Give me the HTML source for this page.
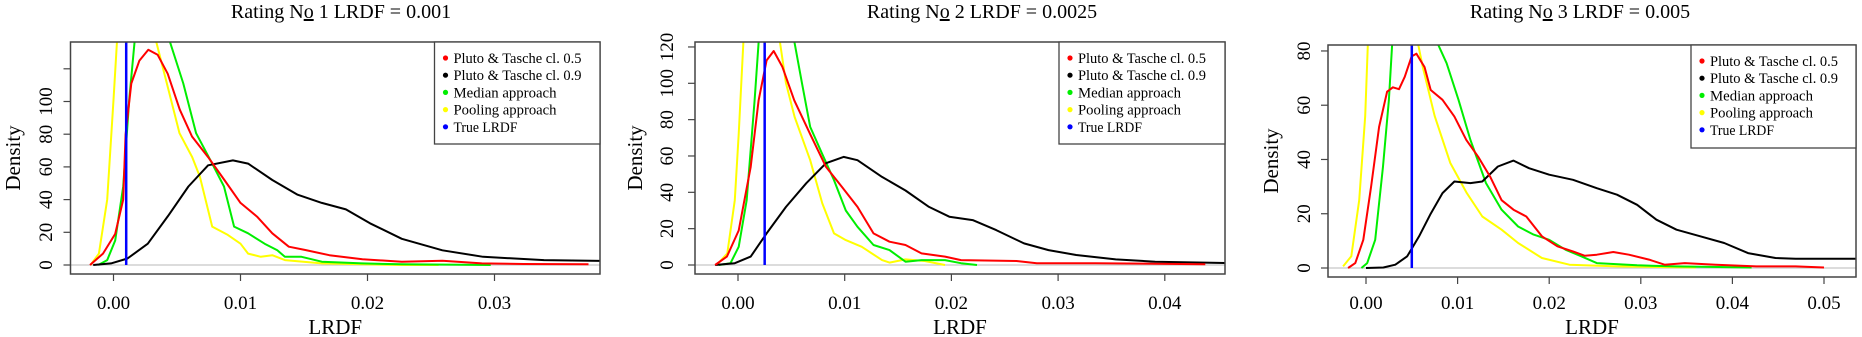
<!DOCTYPE html>
<html><head><meta charset="utf-8"><style>
html,body{margin:0;padding:0;background:#fff;}
svg{display:block;font-family:"Liberation Serif",serif;}
</style></head><body>
<svg id="s" width="1862" height="337" xmlns="http://www.w3.org/2000/svg"></svg>
<script>
const S=document.getElementById('s');
let out='';
const panels=[
 {title:['1','0.001'],tc:341,bx:[70.5,600],by:[42,274],x0:113.5,xs:12.7,y0:265,ys:1.635,ymax:136,
  yt:[0,20,40,60,80,100,120],ylab:[0,20,40,60,80,100],xt:[0,10,20,30],ytx:52,dx:14,true:1,leg:[434.5,600,42,144],
  red:[[-1.85,0],[-0.83,7],[0.13,19],[0.76,40],[0.95,80],[1.4,111],[2.04,125],[2.74,131.6],[3.47,128.6],[4.27,117],[5.22,95],[6.18,78.6],[7.45,66],[8.73,52],[10,38],[11.3,29.6],[12.5,19.4],[13.8,11.2],[15.1,9.2],[17,6],[19.6,3.5],[22.7,2],[25.9,2.6],[29,1],[32.3,0.6],[37.4,0.4]],
  black:[[-1.6,0],[-0.2,1],[1.1,4],[2.7,13],[4.3,30],[5.9,48],[7.45,61],[9.4,64],[10.6,62],[12.5,52],[14.5,43],[16.4,38],[18.3,34],[20.2,25.5],[22.7,16],[25.9,9],[29.1,5],[33.9,3],[39.5,2.4]],
  green:[[-1.2,0],[-0.5,3],[0.13,15],[0.76,48],[1.24,101],[1.7,140],[4.3,140],[5.5,111],[6.5,80.6],[7.77,62],[8.7,48],[9.5,23.5],[10.6,19.4],[11.9,13],[12.9,9],[13.5,5],[14.8,5],[16.4,2],[19.6,1],[22.7,0.4],[29.7,0]],
  yellow:[[-1.8,0],[-1.15,7],[-0.5,40],[0,101],[0.3,140],[3.25,140],[4.27,109],[5.2,80.6],[6.2,66],[6.8,54],[7.77,23.5],[9,18.4],[10,13],[10.6,7],[11.6,5],[12.5,6],[13.5,3],[16.4,1],[22.7,0],[25.6,0]]},
 {title:['2','0.0025'],tc:982,bx:[695,1225],by:[42,274],x0:738,xs:10.67,y0:265,ys:1.817,ymax:122,
  yt:[0,20,40,60,80,100,120],ylab:[0,20,40,60,80,100,120],xt:[0,10,20,30,40],ytx:673,dx:636,true:2.5,leg:[1059,1225,42,144],
  red:[[-2.15,0],[-1.04,4.6],[0.07,19],[1.19,54],[1.93,90.6],[2.68,112.6],[3.35,117.8],[4.16,109],[5.28,90.6],[6.77,72],[8.25,54],[9.74,43],[11.2,32],[12.7,17.4],[14.2,12.8],[15.7,11],[17.2,6.4],[19.4,4.6],[20.9,2.7],[26.1,2.2],[28,1],[33.5,1],[43.8,0.4]],
  black:[[-2.15,0],[-0.3,1],[1.19,4.6],[2.68,17.4],[4.5,32],[6.4,45],[8.25,56],[9.9,59.5],[11.2,57.7],[13.5,48.5],[15.7,41],[17.9,32],[19.8,26.6],[22,24.7],[24.2,19.2],[26.8,11.9],[29.1,8.2],[31.7,5.5],[35.4,3.1],[39.1,1.8],[45.8,1.1]],
  green:[[-1.8,0],[-0.7,1],[0.07,10],[0.82,35.7],[1.56,90.6],[1.95,124],[5.25,124],[6,100],[6.77,76],[7.9,61],[9,46.7],[10.1,30],[11.2,21],[12.7,11],[14.2,8.2],[15.7,1.8],[17.2,2.7],[19.4,2.7],[20.9,1],[22.4,0]],
  yellow:[[-2,0],[-1,6.4],[-0.3,35.7],[0.07,72],[0.52,124],[3.9,124],[4.5,100],[5.3,81.5],[6.77,57.7],[7.9,33.9],[9,17.4],[10.1,13.7],[11.6,10],[13.5,2.7],[14.2,1.3],[15.7,3.1],[17.5,2.2],[19.4,0]]},
 {title:['3','0.005'],tc:1580,bx:[1328,1856],by:[45,277],x0:1366,xs:9.16,y0:268,ys:2.713,ymax:83,
  yt:[0,20,40,60,80],ylab:[0,20,40,60,80],xt:[0,10,20,30,40,50],ytx:1310,dx:1272,true:5,leg:[1691,1856,45,148],
  red:[[-1.95,0],[-1.17,1.8],[-0.3,10.4],[0.56,30],[1.43,52],[2.3,65],[2.94,66.6],[3.6,65.9],[4.24,70.5],[4.98,78],[5.5,79],[6.4,74],[7.06,65.6],[8.35,62],[9.65,55.8],[10.95,47.2],[12.25,41],[13.55,33.7],[14.8,25],[16.1,21.5],[17.5,19],[19.2,11.7],[20.9,8],[22.6,6.1],[23.9,4.5],[25.2,4.9],[27,5.9],[28.7,4.9],[30.9,3.1],[32.6,1.2],[34.8,1.8],[38.2,1.2],[42.6,0.6],[46.9,0.6],[50,0.2]],
  black:[[0,0],[1.9,0.2],[3.2,1.2],[4.5,4.3],[5.8,11.7],[7.06,20],[8.35,27.6],[9.65,31.9],[11.4,31.3],[12.7,31.9],[14.4,37.4],[16.1,39.6],[17.8,36.8],[20,34.4],[22.6,32.5],[25.2,29.4],[27.4,27],[29.6,23.3],[31.7,17.8],[33.9,14.1],[36.5,11.7],[39.1,9.2],[41.7,5.5],[44.7,3.7],[46.9,3.4],[53.8,3.4]],
  green:[[-0.5,0],[0.13,1.8],[1,10.4],[1.86,37.4],[2.5,62],[2.88,84],[7.65,84],[8.8,75.5],[10.1,62],[11.4,47.2],[13.1,31.3],[14.8,21.5],[16.6,15.3],[18.3,12.3],[20,10.4],[21.8,6.7],[23.5,4.3],[25.2,1.8],[29.6,1],[33.9,0.6],[42.1,0.2]],
  yellow:[[-2.5,0.6],[-1.6,4.3],[-0.74,25],[-0.09,56],[0.22,84],[5.6,84],[6.2,74],[7.5,56],[9.2,38.7],[11,27.6],[12.7,19],[14.8,14.1],[16.6,9.2],[19.2,3.7],[22.2,1.2],[27.4,0.6],[36,0.2]]}
];
panels.forEach((p,i)=>{
 const X=v=>p.x0+v*p.xs, Y=v=>p.y0-v*p.ys;
 const [l,r]=p.bx,[t,b]=p.by;
 out+=`<clipPath id="c${i}"><rect x="${l}" y="${t}" width="${r-l}" height="${b-t}"/></clipPath>`;
 out+=`<text x="${p.tc}" y="18" font-size="20" text-anchor="middle">Rating N<tspan text-decoration="underline">o</tspan> ${p.title[0]} LRDF = ${p.title[1]}</text>`;
 out+=`<g clip-path="url(#c${i})"><line x1="${l}" x2="${r}" y1="${p.y0}" y2="${p.y0}" stroke="#c8c8c8" stroke-width="1.3"/>`;
 ['yellow','green','black','red'].forEach(k=>{
  const col={red:'#ff0000',black:'#000',green:'#00ee00',yellow:'#ffff00'}[k];
  out+=`<polyline fill="none" stroke="${col}" stroke-width="2" stroke-linejoin="round" points="${p[k].map(q=>X(q[0]).toFixed(1)+','+Y(q[1]).toFixed(1)).join(' ')}"/>`;
 });
 out+=`<line x1="${X(p.true)}" x2="${X(p.true)}" y1="${p.y0}" y2="${t}" stroke="#0000ff" stroke-width="2.5"/></g>`;
 out+=`<rect x="${l}" y="${t}" width="${r-l}" height="${b-t}" fill="none" stroke="#444" stroke-width="1.5"/>`;
 p.yt.forEach(v=>{out+=`<line x1="${l-7}" x2="${l}" y1="${Y(v)}" y2="${Y(v)}" stroke="#444" stroke-width="1.2"/>`;});
 p.ylab.forEach(v=>{out+=`<text transform="translate(${p.ytx},${Y(v)}) rotate(-90)" font-size="19" text-anchor="middle">${v}</text>`;});
 p.xt.forEach(v=>{const xx=X(v);out+=`<line x1="${xx}" x2="${xx}" y1="${b}" y2="${b+7}" stroke="#444" stroke-width="1.2"/><text x="${xx}" y="309" font-size="19" text-anchor="middle">${(v/1000).toFixed(2)}</text>`;});
 out+=`<text x="${(l+r)/2}" y="334" font-size="21" text-anchor="middle">LRDF</text>`;
 out+=`<text transform="translate(${p.dx+6},${(t+b)/2}) rotate(-90)" font-size="21" text-anchor="middle">Density</text>`;
 const [ll,lr,lt,lb]=p.leg;
 out+=`<rect x="${ll}" y="${lt}" width="${lr-ll}" height="${lb-lt}" fill="#fff" stroke="#444" stroke-width="1.3"/>`;
 [['#ff0000','Pluto &amp; Tasche cl. 0.5',128],['#000','Pluto &amp; Tasche cl. 0.9',128],['#00ee00','Median approach',103],['#ffff00','Pooling approach',103],['#0000ff','True LRDF',64]].forEach((e,j)=>{
  const cy=lt+16+j*17.2;
  out+=`<circle cx="${ll+11}" cy="${cy}" r="2.6" fill="${e[0]}"/><text x="${ll+19}" y="${cy+5}" font-size="15" textLength="${e[2]}" lengthAdjust="spacingAndGlyphs">${e[1]}</text>`;
 });
});
S.innerHTML=out;
</script>
</body></html>
